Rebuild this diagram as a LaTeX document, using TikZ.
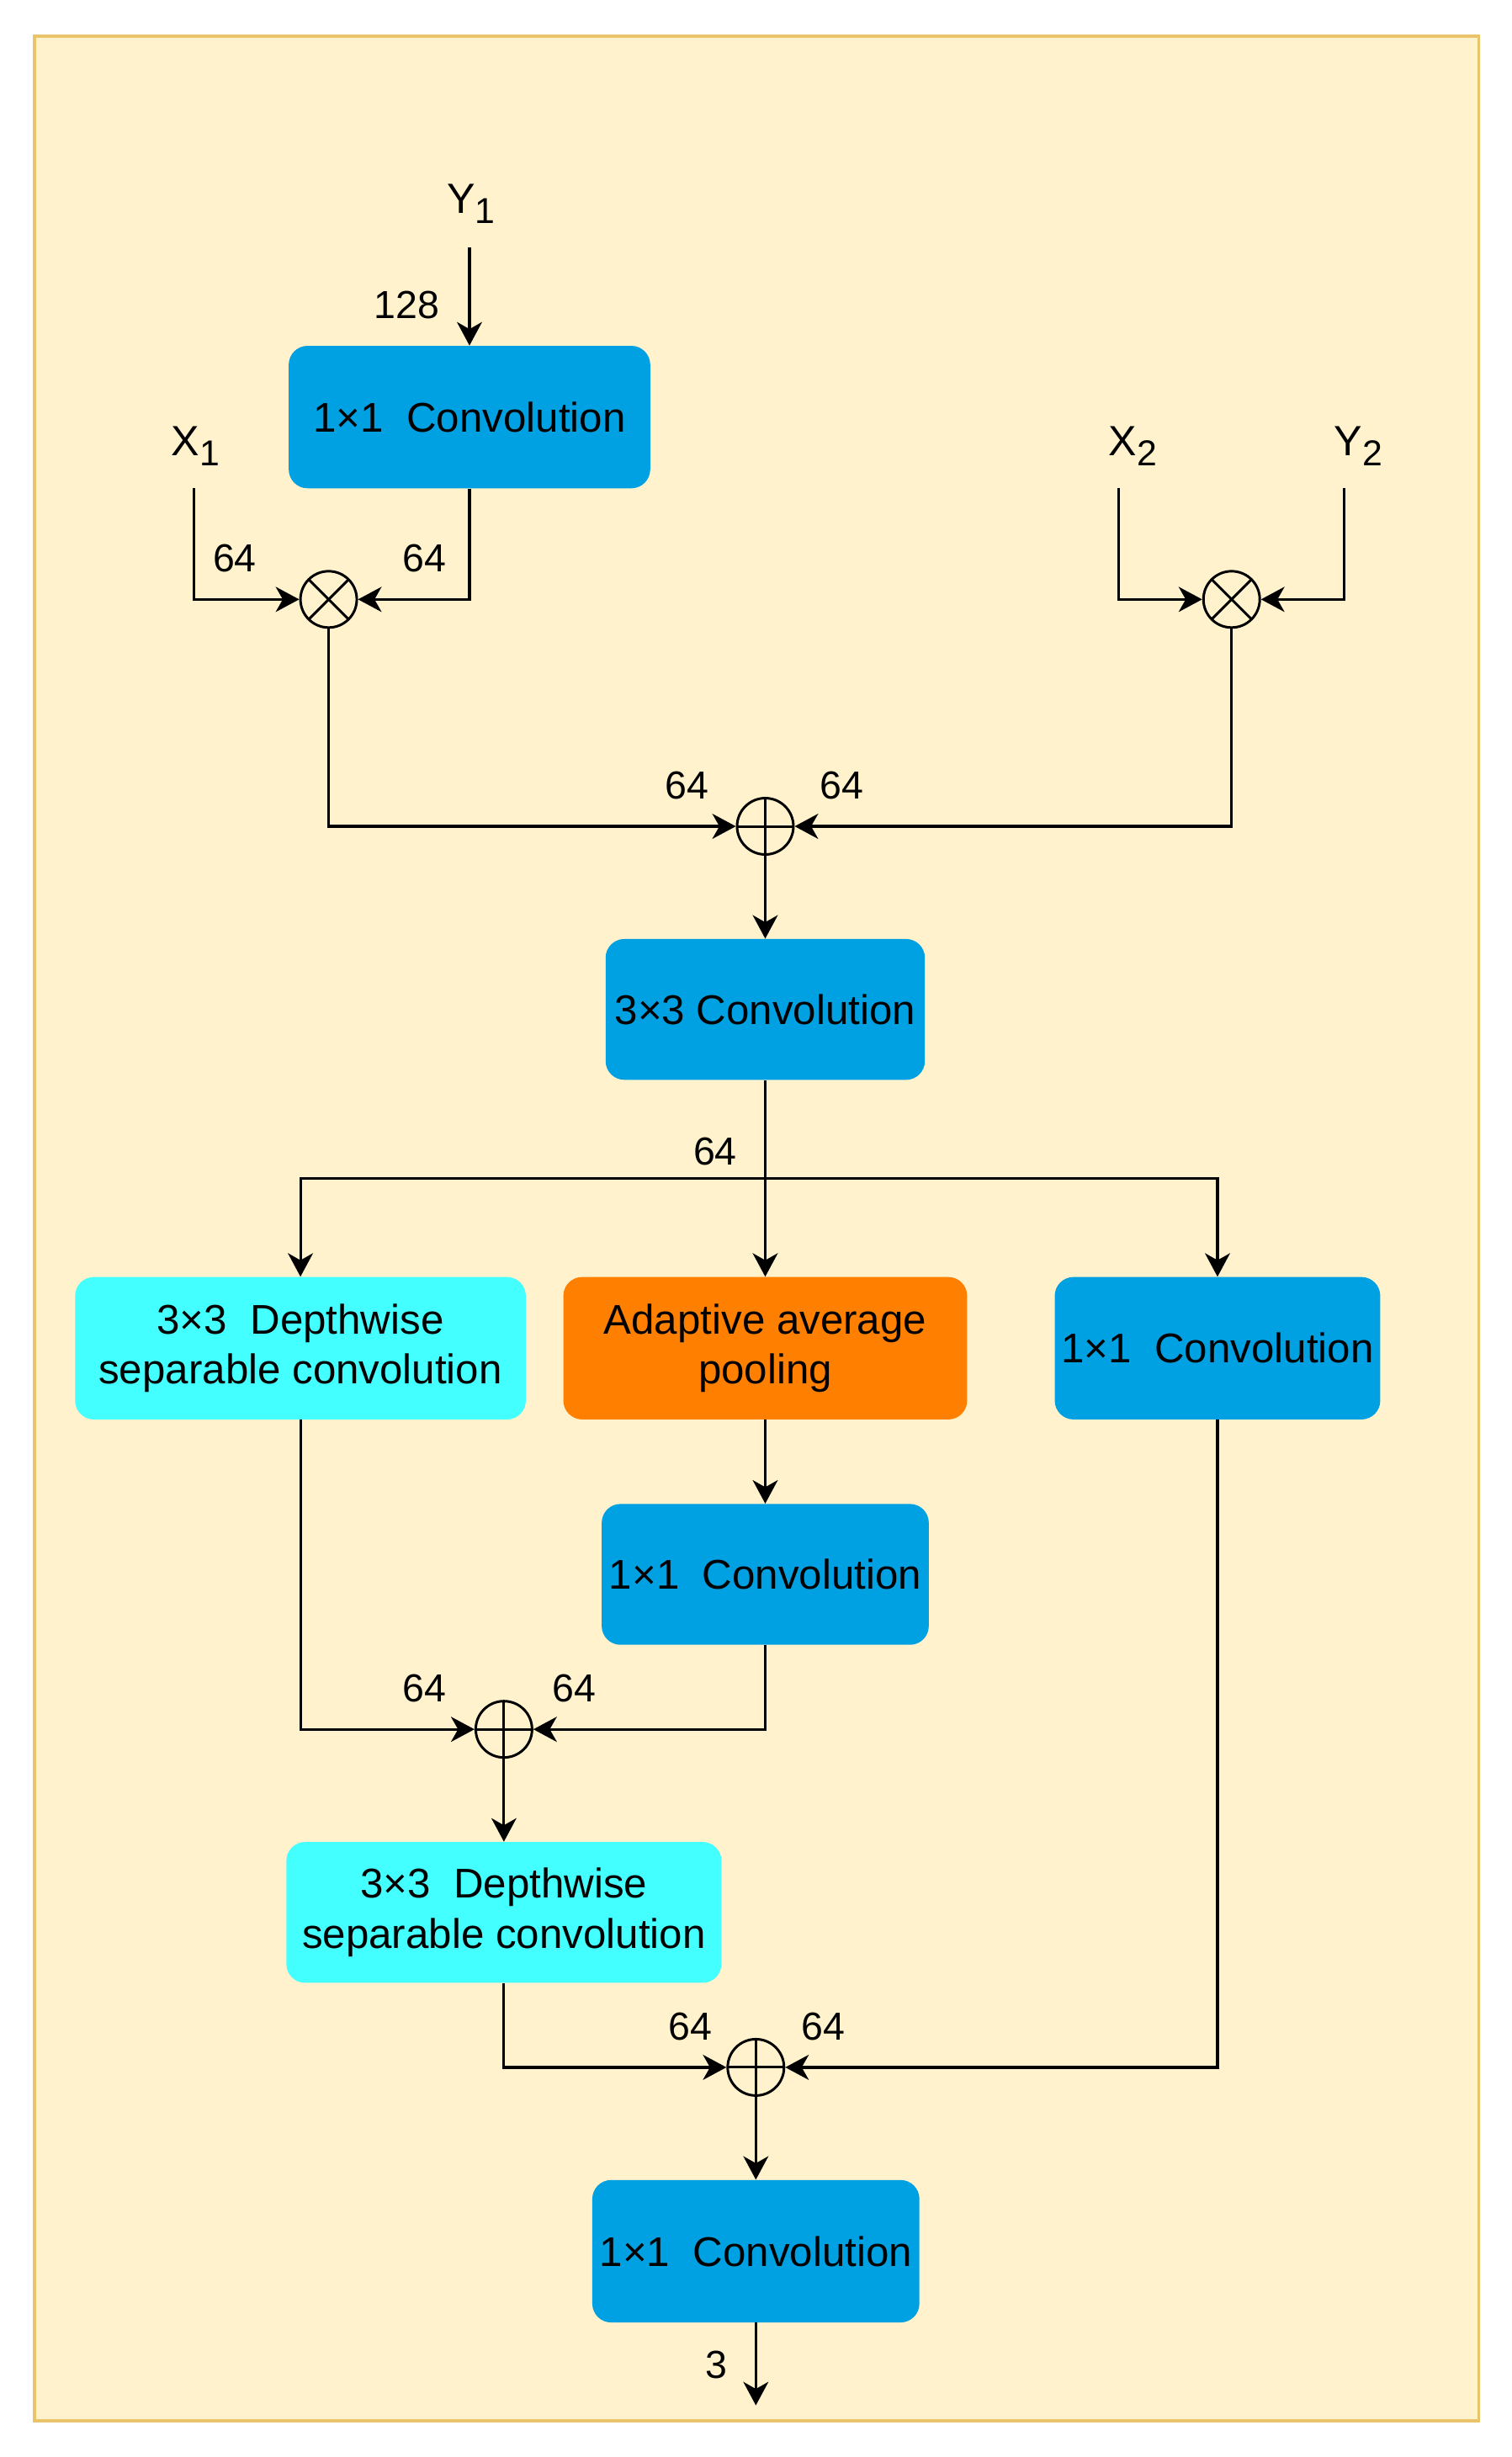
\documentclass[tikz,border=0pt]{standalone}
\usepackage{fontspec}
\setmainfont{Liberation Sans}
\usetikzlibrary{arrows.meta}
\definecolor{bgfill}{HTML}{FFF2CC}
\definecolor{bgline}{HTML}{E9C46A}
\definecolor{cblue}{HTML}{00A1E2}
\definecolor{ccyan}{HTML}{44FFFF}
\definecolor{corange}{HTML}{FF8000}
\tikzset{
  box/.style={rectangle, rounded corners=12pt, align=center, inner sep=0pt,
    font=\fontsize{26.5}{32}\selectfont},
  bluebox/.style={box, fill=cblue},
  cyanbox/.style={box, fill=ccyan},
  orangebox/.style={box, fill=corange},
  op/.style={circle, draw, line width=1.6pt, minimum size=36pt, inner sep=0pt},
  otimesop/.style={op, path picture={
      \draw[line width=1.6pt] (path picture bounding box.south west) -- (path picture bounding box.north east)
        (path picture bounding box.north west) -- (path picture bounding box.south east);}},
  oplusop/.style={op, path picture={
      \draw[line width=1.6pt] (path picture bounding box.south) -- (path picture bounding box.north)
        (path picture bounding box.west) -- (path picture bounding box.east);}},
  lbl/.style={font=\fontsize{25}{30}\selectfont, inner sep=0pt},
  io/.style={font=\fontsize{27}{32}\selectfont, inner sep=0pt},
  conn/.style={line width=1.7pt},
  arr/.style={conn, -{Stealth[length=15pt, width=16pt, inset=4.5pt]}},
}
\newcommand{\sbs}[1]{\raisebox{-0.45ex}{\fontsize{23}{26}\selectfont #1}}
\begin{document}
\begin{tikzpicture}[x=1pt, y=-1pt]
\useasboundingbox (0,0) rectangle (966,1570);
\draw[fill=bgfill, draw=bgline, line width=2pt] (22,23) rectangle (945,1547);

% boxes
\node[bluebox, minimum width=231pt, minimum height=91pt] (conv1) at (300,266.5) {1×1\ \ Convolution};
\node[bluebox, minimum width=204pt, minimum height=90pt] (conv3) at (489,645) {3×3 Convolution};
\node[cyanbox, minimum width=288pt, minimum height=91pt] (dw1) at (192,861.5) {3×3\ \ Depthwise\\separable convolution};
\node[orangebox, minimum width=258pt, minimum height=91pt] (aap) at (489,861.5) {Adaptive average\\pooling};
\node[bluebox, minimum width=208pt, minimum height=91pt] (convR) at (778,861.5) {1×1\ \ Convolution};
\node[bluebox, minimum width=209pt, minimum height=90pt] (convM) at (489,1006) {1×1\ \ Convolution};
\node[cyanbox, minimum width=278pt, minimum height=90pt] (dw2) at (322,1222) {3×3\ \ Depthwise\\separable convolution};
\node[bluebox, minimum width=209pt, minimum height=91pt] (convF) at (483,1438.5) {1×1\ \ Convolution};

% operators
\node[otimesop] (m1) at (210,383) {};
\node[otimesop] (m2) at (787,383) {};
\node[oplusop] (a1) at (489,528) {};
\node[oplusop] (a2) at (322,1105) {};
\node[oplusop] (a3) at (483,1321) {};

% inputs
\node[io] (ly1) at (301,130) {Y\sbs{1}};
\node[io] (lx1) at (125,285) {X\sbs{1}};
\node[io] (lx2) at (724,285) {X\sbs{2}};
\node[io] (ly2) at (868,285) {Y\sbs{2}};
\coordinate (y1s) at (300,158);
\coordinate (x1s) at (124,312);
\coordinate (x2s) at (715,312);
\coordinate (y2s) at (859,312);
\coordinate (br) at (489,753);
\coordinate (out) at (483,1537);

% connectors
\draw[arr] (y1s) -- (conv1.north);
\draw[arr] (x1s) |- (m1.west);
\draw[arr] (conv1.south) |- (m1.east);
\draw[arr] (x2s) |- (m2.west);
\draw[arr] (y2s) |- (m2.east);
\draw[arr] (m1.south) |- (a1.west);
\draw[arr] (m2.south) |- (a1.east);
\draw[arr] (a1.south) -- (conv3.north);
\draw[conn] (conv3.south) -- (br);
\draw[arr] (br) -- (aap.north);
\draw[arr] (br) -| (dw1.north);
\draw[arr] (br) -| (convR.north);
\draw[arr] (aap.south) -- (convM.north);
\draw[arr] (dw1.south) |- (a2.west);
\draw[arr] (convM.south) |- (a2.east);
\draw[arr] (a2.south) -- (dw2.north);
\draw[arr] (dw2.south) |- (a3.west);
\draw[arr] (convR.south) |- (a3.east);
\draw[arr] (a3.south) -- (convF.north);
\draw[arr] (convF.south) -- (out);

% labels
\node[lbl] (n128) at (260,195) {128};
\node[lbl] (n1) at (150,357) {64};
\node[lbl] (n2) at (271,357) {64};
\node[lbl] (n3) at (439,502) {64};
\node[lbl] (n4) at (538,502) {64};
\node[lbl] (n5) at (457,736) {64};
\node[lbl] (n6) at (271,1079) {64};
\node[lbl] (n7) at (367,1079) {64};
\node[lbl] (n8) at (441,1295) {64};
\node[lbl] (n9) at (526,1295) {64};
\node[lbl] (n10) at (458,1511) {3};
\end{tikzpicture}
\end{document}
